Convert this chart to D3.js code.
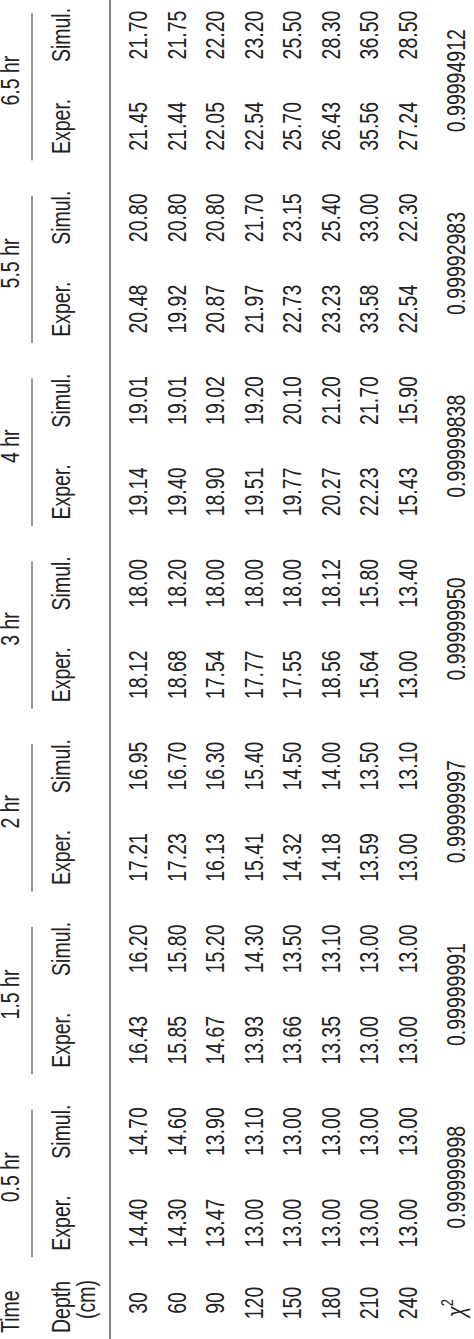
<!DOCTYPE html>
<html><head><meta charset="utf-8">
<script src="https://cdn.jsdelivr.net/npm/d3@7"></script>
<style>body{margin:0;background:#fff}text{font-family:"Liberation Sans",Arial,sans-serif;fill:#222}</style>
</head><body>
<script>
var times = ["0.5 hr", "1.5 hr", "2 hr", "3 hr", "4 hr", "5.5 hr", "6.5 hr"];
var depths = [30, 60, 90, 120, 150, 180, 210, 240];
var exper = [
  [14.40, 14.30, 13.47, 13.00, 13.00, 13.00, 13.00, 13.00],
  [16.43, 15.85, 14.67, 13.93, 13.66, 13.35, 13.00, 13.00],
  [17.21, 17.23, 16.13, 15.41, 14.32, 14.18, 13.59, 13.00],
  [18.12, 18.68, 17.54, 17.77, 17.55, 18.56, 15.64, 13.00],
  [19.14, 19.40, 18.90, 19.51, 19.77, 20.27, 22.23, 15.43],
  [20.48, 19.92, 20.87, 21.97, 22.73, 23.23, 33.58, 22.54],
  [21.45, 21.44, 22.05, 22.54, 25.70, 26.43, 35.56, 27.24]
];
var simul = [
  [14.70, 14.60, 13.90, 13.10, 13.00, 13.00, 13.00, 13.00],
  [16.20, 15.80, 15.20, 14.30, 13.50, 13.10, 13.00, 13.00],
  [16.95, 16.70, 16.30, 15.40, 14.50, 14.00, 13.50, 13.10],
  [18.00, 18.20, 18.00, 18.00, 18.00, 18.12, 15.80, 13.40],
  [19.01, 19.01, 19.02, 19.20, 20.10, 21.20, 21.70, 15.90],
  [20.80, 20.80, 20.80, 21.70, 23.15, 25.40, 33.00, 22.30],
  [21.70, 21.75, 22.20, 23.20, 25.50, 28.30, 36.50, 28.50]
];
var chi2 = ["0.99999998", "0.99999991", "0.99999997", "0.99999950", "0.99999838", "0.99992983", "0.99994912"];

var W = 474, H = 1339;
var svg = d3.select("body").append("svg").attr("width", W).attr("height", H);
// table is drawn in a rotated frame: x' along the page height, y' along the width
var g = svg.append("g").attr("transform", "translate(0," + H + ") rotate(-90)");

var col = d3.scaleLinear().domain([0, 13]).range([116, 1304]);
var row = d3.scaleLinear().domain([0, 7]).range([147, 417]);
var fs = 19.5, sy = 1.32;

function txt(x, y, s, anchor) {
  return g.append("text").attr("transform", "translate(" + x + "," + y + ") scale(1," + sy + ")")
    .attr("font-size", fs).attr("text-anchor", anchor || "middle").text(s);
}

txt(6, 19, "Time", "start");
txt(6, 70, "Depth", "start");
txt(20, 95, "(cm)", "start");

times.forEach(function (t, i) {
  var c1 = col(2 * i), c2 = col(2 * i + 1);
  txt((c1 + c2) / 2, 19, t);
  g.append("line").attr("x1", c1 - 34).attr("x2", c2 + 22).attr("y1", 32).attr("y2", 32)
    .attr("stroke", "#333").attr("stroke-width", 1);
  txt(c1, 70, "Exper.");
  txt(c2, 70, "Simul.");
  exper[i].forEach(function (v, j) { txt(c1, row(j), v.toFixed(2)); });
  simul[i].forEach(function (v, j) { txt(c2, row(j), v.toFixed(2)); });
  txt((c1 + c2) / 2, 465, chi2[i]);
});

depths.forEach(function (d, j) { txt(36, row(j), d); });

g.append("line").attr("x1", 0).attr("x2", H).attr("y1", 110).attr("y2", 110)
  .attr("stroke", "#333").attr("stroke-width", 1.2);

var chi = txt(22, 465, "", "start").attr("font-style", "italic");
chi.append("tspan").text("\u03C7");
chi.append("tspan").attr("dy", -9).attr("font-size", 13).attr("font-style", "normal").text("2");
</script>
</body></html>
